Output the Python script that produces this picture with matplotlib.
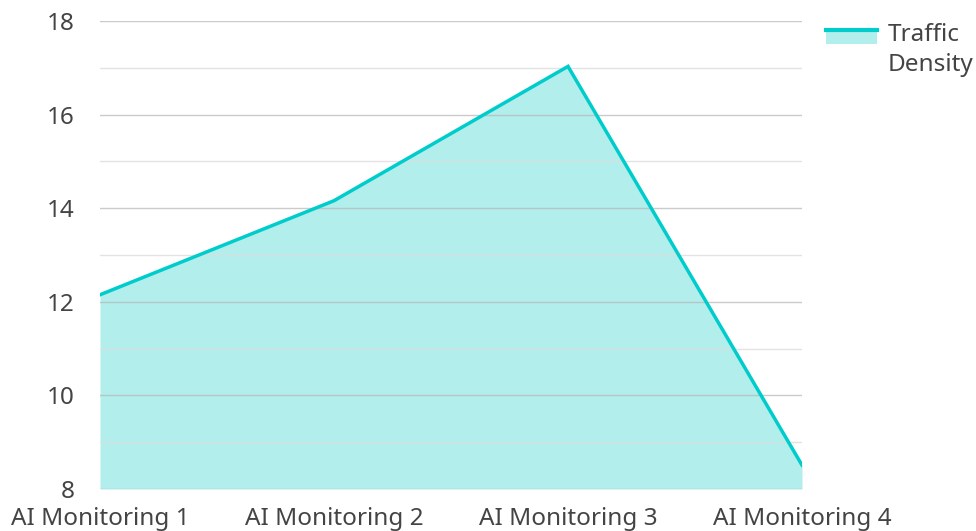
import numpy as np
import matplotlib

matplotlib.use('Agg')
import matplotlib.pyplot as plt
from matplotlib.patches import Rectangle
from matplotlib.lines import Line2D

plt.rcParams['font.family'] = ['Noto Sans', 'DejaVu Sans']

categories = ['AI Monitoring 1', 'AI Monitoring 2', 'AI Monitoring 3', 'AI Monitoring 4']
traffic_density = [12.15, 14.16, 17.03, 8.51]
series_name = 'Traffic\nDensity'

line_color = '#00cccc'
fill_color = '#b2eeec'
text_color = '#444444'
fs = 17.5


class AreaHandler:
    # legend key: filled box with the line along its top edge, level with the first text line
    def legend_artist(self, legend, orig_handle, fontsize, handlebox):
        x0, y0 = handlebox.xdescent, handlebox.ydescent
        w, h = handlebox.width, handlebox.height
        top = y0 + h - 1.4 * fontsize
        box = Rectangle((x0, top - 0.58 * fontsize), w, 0.58 * fontsize,
                        facecolor=fill_color, edgecolor='none',
                        transform=handlebox.get_transform())
        ln = Line2D([x0, x0 + w], [top, top], color=line_color, lw=3,
                    transform=handlebox.get_transform())
        handlebox.add_artist(box)
        handlebox.add_artist(ln)
        return box


fig = plt.figure(figsize=(9.76, 5.31), dpi=100)
ax = fig.add_axes([100 / 976, 1 - 489 / 531, 702 / 976, 468 / 531])

x = np.arange(len(categories))
ax.fill_between(x, traffic_density, 8, color=fill_color, lw=0, zorder=1)
ax.plot(x, traffic_density, color=line_color, lw=2.5, zorder=3, solid_joinstyle='miter')

ax.set_xlim(0, len(categories) - 1)
ax.set_ylim(8, 18)
ax.set_yticks(np.arange(8, 19, 2))
ax.set_yticks(np.arange(9, 18, 2), minor=True)
ax.grid(axis='y', which='major', color='#b5b5b5', lw=1, alpha=0.7, zorder=2)
ax.grid(axis='y', which='minor', color='#dddddd', lw=1, alpha=0.8, zorder=2)
ax.set_axisbelow(False)
for s in ax.spines.values():
    s.set_visible(False)

ax.set_xticks(x)
ax.set_xticklabels(categories)
ax.tick_params(axis='both', which='both', length=0, labelsize=fs, colors=text_color)
ax.tick_params(axis='y', pad=18)
ax.tick_params(axis='x', pad=13)

leg = ax.legend([object()], [series_name], handler_map={object: AreaHandler()},
                loc='upper left', bbox_to_anchor=(826 / 976, 1 - 23 / 531),
                bbox_transform=fig.transFigure, frameon=False, fontsize=fs,
                handlelength=2.1, handleheight=2.6, handletextpad=0.45,
                borderpad=0, borderaxespad=0, labelcolor=text_color)
for t in leg.get_texts():
    t.set_linespacing(1.35)

plt.savefig('out.png', dpi=100)
